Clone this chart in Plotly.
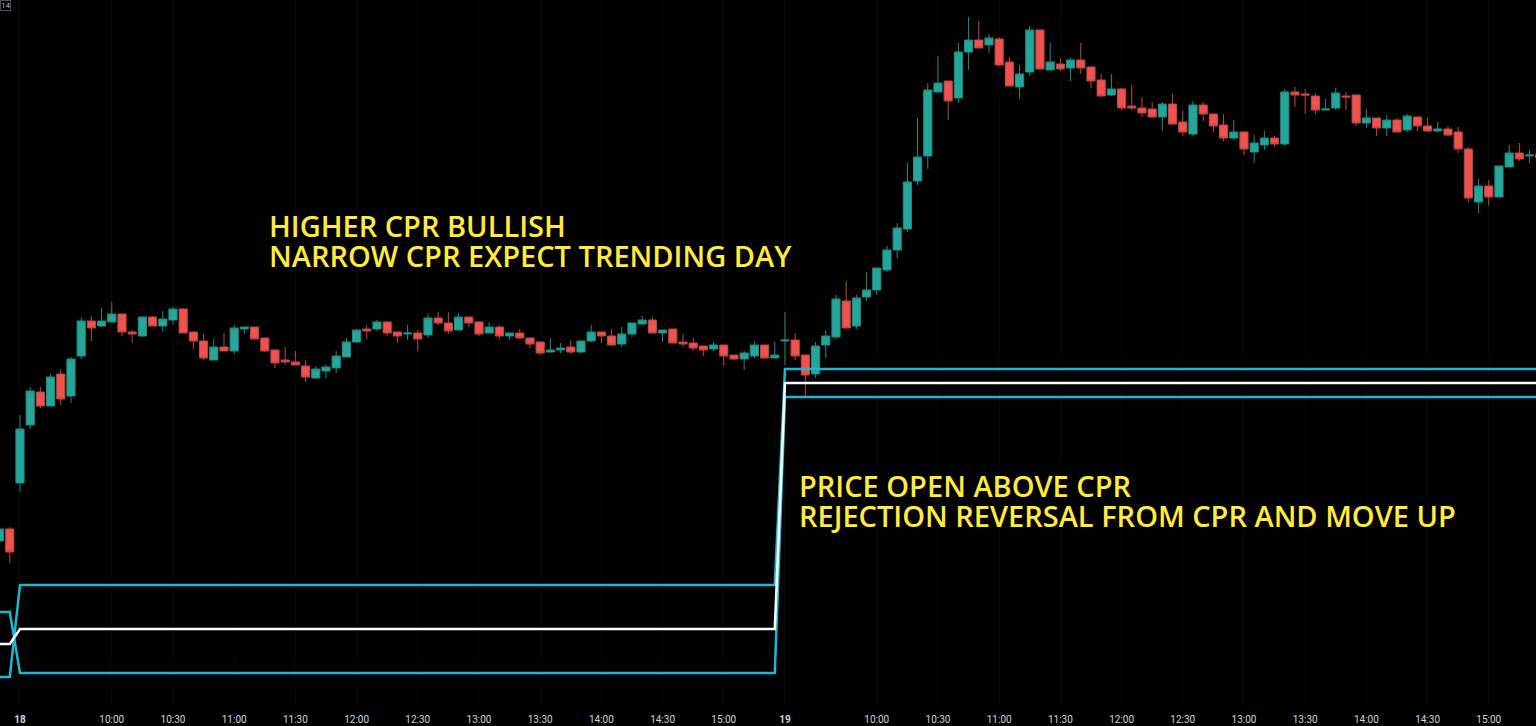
import plotly.graph_objects as go

# candles are 5 min bars, index 0 = 18th 09:15, index 75 = 19th 09:15
candle_idx = list(range(-2, 150))

opens = [185,197,243,301,334,320,352,330,370,405,400,404,412,394,390,409,400,406,417,394,385,366,379,375,397,399,
         388,376,366,364,360,348,355,358,369,384,397,397,404,394,392,393,391,408,403,396,409,404,393,399,390,393,388,
         384,374,376,379,374,385,394,390,382,392,402,406,393,397,384,383,380,377,381,371,367,370,381,368,385,386,371,
         352,381,389,425,400,429,436,456,476,497,545,570,634,645,628,674,686,681,687,664,639,654,696,656,662,658,666,
         659,646,631,637,620,618,617,609,622,604,592,621,612,601,588,594,574,581,588,582,634,632,630,616,618,630,631,
         603,608,598,606,596,609,600,595,597,594,577,524,540,529,559,573,570,572]
highs = [197,199,311,339,339,352,357,369,408,410,418,424,412,396,409,410,415,419,418,394,392,387,393,401,399,399,
         388,377,379,375,366,360,361,375,388,397,401,406,405,394,401,396,413,414,414,413,409,405,404,401,393,397,388,
         384,388,383,386,385,401,394,397,399,403,410,409,396,397,392,388,380,384,381,371,375,385,381,384,414,393,371,
         384,396,431,445,431,454,458,480,503,563,608,643,670,645,683,709,705,692,689,669,661,700,696,683,668,668,683,
         660,652,652,638,641,629,624,624,632,615,625,624,612,612,606,594,591,595,590,637,639,637,633,627,638,634,631,
         617,608,611,608,612,609,608,604,600,599,579,547,546,560,581,583,576,574]
lows = [185,163,234,297,318,320,321,323,367,385,399,404,390,383,389,400,394,401,393,377,366,366,375,372,392,387,
        374,358,361,361,344,347,348,353,369,383,387,395,390,383,386,375,388,401,392,395,399,390,393,387,386,387,378,
        371,373,373,372,372,384,383,380,379,389,401,392,384,383,379,375,370,375,360,366,356,368,367,368,361,366,329,
        348,368,387,398,397,425,431,454,468,494,541,557,634,606,623,656,678,673,660,640,627,650,656,656,655,645,652,
        638,629,630,616,616,609,608,595,601,590,590,605,594,585,586,571,563,576,579,580,619,612,612,616,616,616,600,
        598,590,590,594,594,595,594,594,590,573,524,513,520,529,559,565,563,566]
closes = [197,174,297,335,320,349,327,367,405,398,405,412,394,392,409,400,407,417,393,385,368,379,375,398,399,387,
          375,363,364,361,349,357,359,370,384,396,395,404,393,390,393,387,408,403,395,409,403,392,399,390,393,388,382,
          373,376,378,374,385,394,390,381,392,403,406,393,396,383,382,378,376,381,370,367,373,381,368,371,386,370,351,
          380,390,427,398,428,436,458,476,498,544,569,636,643,625,674,686,678,688,661,640,652,696,657,664,657,666,658,
          645,630,637,618,618,613,609,622,602,594,621,612,600,588,594,577,583,588,582,634,631,631,616,617,633,629,603,
          608,598,606,594,610,600,595,597,591,577,528,540,529,560,573,567,571,568]

# CPR levels, the two cyan lines swap sides at the open of the 18th
cpr_idx = [-2, -1, 0, 74, 75, 149]
cpr_a = [114, 114, 53, 53, 329, 329]
cpr_b = [49, 49, 141, 141, 357, 357]
cpr_pivot = [82, 82, 97, 97, 343, 343]

tick_idx = [0, 9, 15, 21, 27, 33, 39, 45, 51, 57, 63, 69,
            75, 84, 90, 96, 102, 108, 114, 120, 126, 132, 138, 144]
tick_labels = ["<b>18</b>", "10:00", "10:30", "11:00", "11:30", "12:00", "12:30", "13:00", "13:30", "14:00", "14:30", "15:00",
               "<b>19</b>", "10:00", "10:30", "11:00", "11:30", "12:00", "12:30", "13:00", "13:30", "14:00", "14:30", "15:00"]

note_lines = ["HIGHER CPR BULLISH", "NARROW CPR EXPECT TRENDING DAY",
              "PRICE OPEN ABOVE CPR", "REJECTION REVERSAL FROM CPR AND MOVE UP"]
note_x = [24.2, 24.2, 76.2, 76.2]
note_y = [479, 449, 219, 189]

fig = go.Figure()

for level, color in [(cpr_a, "#1fb6d2"), (cpr_b, "#1fb6d2"), (cpr_pivot, "#ffffff")]:
    fig.add_trace(go.Scatter(x=cpr_idx, y=level, mode="lines", line=dict(color=color, width=2.5), showlegend=False))

fig.add_trace(go.Candlestick(
    x=candle_idx, open=opens, high=highs, low=lows, close=closes,
    increasing=dict(fillcolor="#26a69a", line=dict(color="#1f8f85", width=1)),
    decreasing=dict(fillcolor="#ef5350", line=dict(color="#c04644", width=1)),
    whiskerwidth=0, showlegend=False,
))

for text, nx, ny in zip(note_lines, note_x, note_y):
    fig.add_annotation(x=nx, y=ny, text=text, showarrow=False, xanchor="left", yanchor="bottom",
                       font=dict(family="Open Sans", size=29, color="#ffeb3b", weight=600))

fig.add_annotation(x=0, y=1.0, xref="paper", yref="paper", text="14", showarrow=False, xanchor="left", yanchor="top",
                   font=dict(family="Roboto", size=8, color="#b2b5be"), bordercolor="#4a4e58", borderwidth=1, borderpad=0)

fig.update_layout(
    width=1536, height=726,
    margin=dict(l=0, r=0, t=0, b=20),
    paper_bgcolor="#000000", plot_bgcolor="#000000",
    boxgap=0.2, boxgroupgap=0,
    xaxis=dict(range=[-1.96, 148.63], rangeslider=dict(visible=False), tickmode="array", tickvals=tick_idx,
               ticktext=tick_labels, ticks="outside", ticklen=4, tickcolor="#000000", showgrid=True, gridcolor="#080808",
               zeroline=False, showline=False, tickfont=dict(family="Roboto", size=10, color="#d1d4dc")),
    yaxis=dict(range=[20, 726], showticklabels=False, showgrid=False, zeroline=False, showline=False),
)

fig.write_html("out.html", config=dict(displayModeBar=False),
               post_script="document.body.style.margin='0';document.body.style.background='#000';")
